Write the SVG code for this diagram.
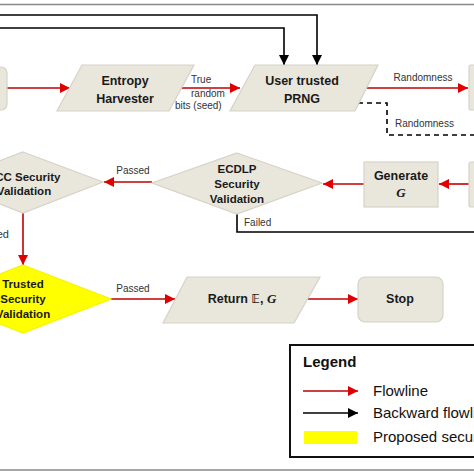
<svg xmlns="http://www.w3.org/2000/svg" width="474" height="474" viewBox="0 0 474 474">
<defs>
<marker id="ar" viewBox="0 0 10 10" refX="10" refY="5" markerWidth="10" markerHeight="10" markerUnits="userSpaceOnUse" orient="auto"><path d="M0,0 L10,5 L0,10 z" fill="#e00000"/></marker>
<marker id="ab" viewBox="0 0 10 10" refX="10" refY="5" markerWidth="10" markerHeight="10" markerUnits="userSpaceOnUse" orient="auto"><path d="M0,0 L10,5 L0,10 z" fill="#000"/></marker>
<style>
.n{fill:#e9e6dc;stroke:#d6d2c6;stroke-width:1.2}
.y{fill:#ffff00;stroke:#f4f400;stroke-width:1.2}
.t{font-family:"Liberation Sans",Arial,sans-serif;font-weight:bold;font-size:12.5px;fill:#1a1a1a;text-anchor:middle}
.d{font-family:"Liberation Sans",Arial,sans-serif;font-weight:bold;font-size:11.5px;fill:#1a1a1a;text-anchor:middle}
.l{font-family:"Liberation Sans",Arial,sans-serif;font-size:10px;fill:#333}
.r{fill:none;stroke:#c00000;stroke-width:1.6}
.b{fill:none;stroke:#000;stroke-width:1.6}
.g{font-family:"Liberation Serif","Times New Roman",serif;font-style:italic;font-weight:bold}
.lg{font-family:"Liberation Sans",Arial,sans-serif;font-size:15px;fill:#111}
</style>
</defs>
<rect width="474" height="474" fill="#fff"/>
<line x1="0" y1="4.5" x2="474" y2="4.5" stroke="#888" stroke-width="1.5"/>
<line x1="0" y1="470" x2="474" y2="470" stroke="#888" stroke-width="1.5"/>

<g id="connectors">
<line class="r" x1="7" y1="88" x2="70" y2="88" marker-end="url(#ar)"/>
<line class="r" x1="181" y1="88" x2="240" y2="88" marker-end="url(#ar)"/>
<line class="r" x1="366" y1="88" x2="468" y2="88" marker-end="url(#ar)"/>
<polyline class="b" points="358,103 387,103 387,135 474,135" stroke-dasharray="5,4"/>
<polyline class="b" points="0,15 317,15 317,65" marker-end="url(#ab)"/>
<polyline class="b" points="0,28 284,28 284,65" marker-end="url(#ab)"/>
<line class="r" x1="469" y1="184" x2="439" y2="184" marker-end="url(#ar)"/>
<line class="r" x1="364" y1="184" x2="323" y2="184" marker-end="url(#ar)"/>
<line class="r" x1="152" y1="182" x2="104" y2="182" marker-end="url(#ar)"/>
<polyline class="b" points="237,214 237,232 474,232"/>
<line class="r" x1="23" y1="213" x2="23" y2="265" marker-end="url(#ar)"/>
<line class="r" x1="111" y1="299" x2="175" y2="299" marker-end="url(#ar)"/>
<line class="r" x1="308" y1="299" x2="358" y2="299" marker-end="url(#ar)"/>
<text class="l" x="191" y="83">True</text>
<text class="l" x="191" y="97">random</text>
<text class="l" x="175" y="109">bits (seed)</text>
<text class="l" x="423" y="81" text-anchor="middle">Randomness</text>
<text class="l" x="395" y="127">Randomness</text>
<text class="l" x="133" y="174" text-anchor="middle">Passed</text>
<text class="l" x="244" y="226">Failed</text>
<text class="l" x="9" y="238" text-anchor="end" style="font-size:11px">Failed</text>
<text class="l" x="133" y="292" text-anchor="middle">Passed</text>
</g>

<g id="start"><rect class="n" x="-20" y="67" width="27" height="43" rx="6"/></g>
<g id="entropy"><polygon class="n" points="82,65 194,65 169,111 57,111"/>
<text class="t" x="125" y="84.5">Entropy</text><text class="t" x="125" y="102.5">Harvester</text></g>
<g id="prng"><polygon class="n" points="255,65 378,65 355,111 230,111"/>
<text class="t" x="302" y="84.5">User trusted</text><text class="t" x="302" y="102.5">PRNG</text></g>
<g id="right1"><rect class="n" x="469" y="65" width="30" height="45" rx="2"/></g>
<g id="right2"><rect class="n" x="469" y="162" width="30" height="45" rx="2"/></g>
<g id="generate"><rect class="n" x="364" y="162" width="74" height="45"/>
<text class="t" x="401" y="180">Generate</text><text class="t g" x="401" y="197" style="font-size:13px">G</text></g>
<g id="ecdlp"><polygon class="n" points="237,153 322,183 237,214 152,183"/>
<text class="d" x="237" y="173">ECDLP</text><text class="d" x="237" y="188">Security</text><text class="d" x="237" y="203">Validation</text></g>
<g id="ecc"><polygon class="n" points="23,152 103,182 23,213 -57,182"/>
<text class="d" x="24" y="181">ECC Security</text><text class="d" x="24" y="195">Validation</text></g>
<g id="trusted"><polygon class="y" points="23,265 111,299 23,333 -65,299"/>
<text class="d" x="23" y="288">Trusted</text><text class="d" x="23" y="303">Security</text><text class="d" x="23" y="318">Validation</text></g>
<g id="return"><polygon class="n" points="187,277 320,277 294,323 163,323"/>
<text class="t" x="242" y="303">Return <tspan style="font-family:'DejaVu Serif','DejaVu Sans',serif">𝔼</tspan>, <tspan class="g" style="font-size:13px">G</tspan></text></g>
<g id="stop"><rect class="n" x="358" y="277" width="85" height="45" rx="7"/>
<text class="t" x="400" y="303">Stop</text></g>

<g id="legend">
<rect x="290" y="345" width="190" height="112" fill="#fff" stroke="#111" stroke-width="2"/>
<text class="lg" x="303" y="367" font-weight="bold">Legend</text>
<line class="r" x1="303" y1="391" x2="358" y2="391" marker-end="url(#ar)"/>
<text class="lg" x="373" y="396">Flowline</text>
<line class="b" x1="303" y1="413" x2="358" y2="413" marker-end="url(#ab)"/>
<text class="lg" x="373" y="418">Backward flowline</text>
<rect x="304" y="431" width="53" height="13" fill="#ffff00"/>
<text class="lg" x="373" y="442">Proposed security</text>
</g>
</svg>
